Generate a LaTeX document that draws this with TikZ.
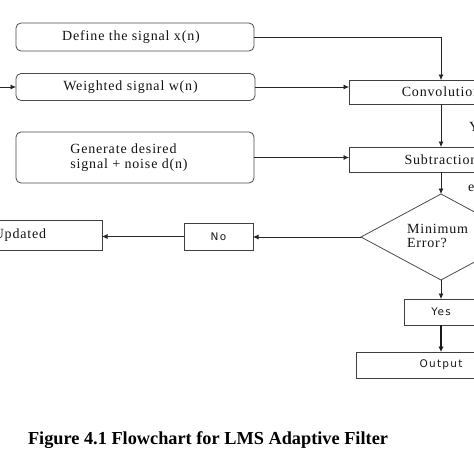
\documentclass[tikz,border=0pt]{standalone}
\usepackage{fontspec}
\setmainfont{Liberation Serif}
\newfontfamily\boxfont[LetterSpace=6]{Liberation Serif}
\newfontfamily\sansbox[LetterSpace=12]{DejaVu Sans}
\usetikzlibrary{arrows.meta,shapes.geometric}
\begin{document}
\begin{tikzpicture}[x=1pt,y=-1pt,
  every node/.style={inner sep=0pt, outer sep=0pt},
  txt/.style={font=\boxfont\fontsize{14}{14}\selectfont, text=black!92},
  stxt/.style={font=\sansbox\fontsize{10.5}{12}\selectfont, text=black!90},
  rbox/.style={draw=black!70, line width=0.8pt, rounded corners=5pt, txt},
  sbox/.style={draw=black!75, line width=0.8pt, txt},
  arr/.style={draw=black!85, line width=0.7pt, -{Latex[length=5.5pt,width=5pt]}},
  thickarr/.style={draw=black!90, line width=1.2pt, -{Latex[length=5.5pt,width=5.5pt]}}]
\clip (0,0) rectangle (474,474);
\fill[white] (0,0) rectangle (474,474);
% left column
\node[rbox, minimum width=238pt, minimum height=28pt] (b1) at (135,37) {\hspace*{-8pt}Define the signal x(n)};
\node[rbox, minimum width=239pt, minimum height=27pt] (b2) at (135.5,87) {\hspace*{-10pt}Weighted signal w(n)};
\node[rbox, minimum width=238pt, minimum height=51pt, align=left] (b3) at (135,157.5) {\hspace*{-12pt}Generate desired\\[1pt]\hspace*{-12pt}signal + noise d(n)};
% right column
\node[sbox, minimum width=184pt, minimum height=24pt] (conv) at (441,92) {Convolution};
\node[sbox, minimum width=184pt, minimum height=25pt] (sub) at (441,159.5) {Subtraction};
\node[diamond, draw=black!70, line width=0.8pt, minimum width=160pt, minimum height=86pt] (dia) at (441,237) {};
\node[txt, anchor=west, align=left] (dtext) at (407,236) {Minimum\\Error?};
\node[sbox, stxt, minimum width=74pt, minimum height=26pt] (yes) at (441,312) {Yes};
\node[sbox, stxt, minimum width=170pt, minimum height=26pt] (out) at (441,365) {Output};
% no branch
\node[sbox, stxt, minimum width=69pt, minimum height=27pt] (no) at (218.5,236.5) {No};
\node[sbox, minimum width=164pt, minimum height=30pt] (upd) at (20,235) {Updated};
% edge labels
\node[txt, anchor=west] (ylab) at (469,128) {Y(n)};
\node[txt, anchor=west] (elab) at (468,188) {e(n)};
% connectors
\coordinate (in) at (-5,87);
\draw[arr] (b1.east) -| (conv.north);
\draw[arr] (in) -- (b2.west);
\draw[arr] (b2.east) -- (b2.east -| conv.west);
\draw[arr] (conv.south) -- (sub.north);
\draw[arr] (b3.east) -- (b3.east -| sub.west);
\draw[arr] (sub.south) -- (dia.north);
\draw[arr] (dia.west) -- (dia.west -| no.east);
\draw[arr] (no.west) -- (no.west -| upd.east);
\draw[arr] (dia.south) -- (yes.north);
\draw[thickarr] (yes.south) -- (out.north);
% caption
\node[anchor=base west, font=\bfseries\fontsize{18.3}{20}\selectfont] (cap) at (28,444) {Figure 4.1 Flowchart for LMS Adaptive Filter};
\end{tikzpicture}
\end{document}
